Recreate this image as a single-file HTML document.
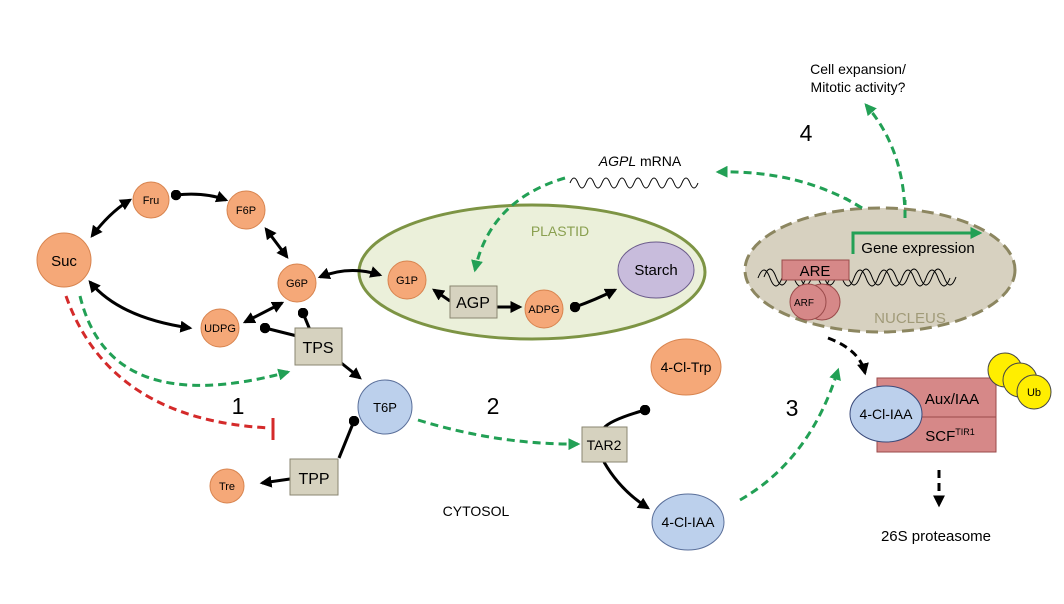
<!DOCTYPE html>
<html><head><meta charset="utf-8"><style>body{margin:0;background:#fff}svg{display:block}text{font-family:"Liberation Sans",sans-serif}</style></head><body>
<svg width="1064" height="604" viewBox="0 0 1064 604">
<defs>
<marker id="a" viewBox="0 0 10 10" refX="8" refY="5" markerWidth="4" markerHeight="4" orient="auto-start-reverse"><path d="M0,0L10,5L0,10z" fill="#000"/></marker>
<marker id="g" viewBox="0 0 10 10" refX="8" refY="5" markerWidth="4" markerHeight="4" orient="auto"><path d="M0,0L10,5L0,10z" fill="#22a055"/></marker>
<marker id="d" viewBox="0 0 10 10" refX="5" refY="5" markerWidth="3.5" markerHeight="3.5"><circle cx="5" cy="5" r="5" fill="#000"/></marker>
</defs>
<g stroke="#000" stroke-width="3" fill="none">
<path d="M92,236 Q110,212 130,200" marker-start="url(#a)" marker-end="url(#a)"/>
<path d="M176,195 Q205,192 226,200" marker-start="url(#d)" marker-end="url(#a)"/>
<path d="M266,229 L287,257" marker-start="url(#a)" marker-end="url(#a)"/>
<path d="M90,282 Q120,318 190,328" marker-start="url(#a)" marker-end="url(#a)"/>
<path d="M245,322 L282,303" marker-start="url(#a)" marker-end="url(#a)"/>
<path d="M265,328 L297,336" marker-start="url(#d)"/>
<path d="M303,313 L310,330" marker-start="url(#d)"/>
<path d="M340,362 L360,378" marker-end="url(#a)"/>
<path d="M354,421 L339,458" marker-start="url(#d)"/>
<path d="M290,479 L262,483" marker-end="url(#a)"/>
<path d="M645,410 Q610,420 604,428" marker-start="url(#d)"/>
<path d="M604,462 Q620,490 648,508" marker-end="url(#a)"/>
</g>
<g stroke-width="3" fill="none" stroke-dasharray="8,5">
<path d="M80,296 Q110,420 288,372" stroke="#22a055" marker-end="url(#g)"/>
<path d="M66,296 Q110,420 270,428" stroke="#d42a2a"/>
<path d="M418,420 Q500,445 578,444" stroke="#22a055" marker-end="url(#g)"/>
<path d="M740,500 Q810,460 838,370" stroke="#22a055" marker-end="url(#g)"/>
<path d="M862,208 Q800,170 718,172" stroke="#22a055" marker-end="url(#g)"/>
<path d="M905,218 Q905,150 866,105" stroke="#22a055" marker-end="url(#g)"/>
<path d="M828,338 Q860,350 865,373" stroke="#000" marker-end="url(#a)"/>
<path d="M939,470 L939,505" stroke="#000" marker-end="url(#a)"/>
</g>
<path d="M273,418 L273,440" stroke="#d42a2a" stroke-width="3"/>
<ellipse cx="532" cy="272" rx="173" ry="67" fill="#ebf0da" stroke="#7d9444" stroke-width="3"/>
<ellipse cx="880" cy="270" rx="135" ry="62" fill="#d7d1c0" stroke="#8c8660" stroke-width="3" stroke-dasharray="12,6"/>
<g stroke="#000" stroke-width="3" fill="none"><path d="M565,178 Q490,200 475,270" stroke="#22a055" stroke-dasharray="8,5" marker-end="url(#g)"/>
<path d="M320,277 Q350,265 380,275" marker-start="url(#a)" marker-end="url(#a)"/>
<path d="M450,301 L434,290" marker-end="url(#a)"/><path d="M497,307 L520,307" marker-end="url(#a)"/>
<path d="M575,307 Q595,300 615,290" marker-start="url(#d)" marker-end="url(#a)"/>
<path d="M862,208 L845,198" stroke="#22a055" stroke-dasharray="8,5"/><path d="M905,218 L905,200" stroke="#22a055" stroke-dasharray="8,5"/>
<path d="M853,254 L853,233 L980,233" stroke="#22a055" marker-end="url(#g)"/></g>
<path d="M570,183 q4,-10 8,0 t8,0 t8,0 t8,0 t8,0 t8,0 t8,0 t8,0 t8,0 t8,0 t8,0 t8,0 t8,0 t8,0 t8,0 t8,0" fill="none" stroke="#000" stroke-width="1"/>
<path d="M758,278 q6,-16 12,0 t12,0 t12,0 t12,0 t12,0 t12,0 t12,0 t12,0 t12,0 t12,0 t12,0 t12,0 t12,0 t12,0 t12,0 t12,0" fill="none" stroke="#000" stroke-width="1"/>
<path d="M764,278 q6,-16 12,0 t12,0 t12,0 t12,0 t12,0 t12,0 t12,0 t12,0 t12,0 t12,0 t12,0 t12,0 t12,0 t12,0 t12,0 t12,0" fill="none" stroke="#000" stroke-width="1" transform="translate(0,-1)"/>
<g fill="#f5a878" stroke="#d8844f" stroke-width="1">
<circle cx="64" cy="260" r="27"/><circle cx="151" cy="200" r="18"/><circle cx="246" cy="210" r="19"/><circle cx="297" cy="283" r="19"/><circle cx="220" cy="328" r="19"/><circle cx="227" cy="486" r="17"/><circle cx="407" cy="280" r="19"/><circle cx="544" cy="309" r="19"/><ellipse cx="686" cy="367" rx="35" ry="28"/></g>
<g fill="#bcd0ec" stroke="#5a6f9a" stroke-width="1"><circle cx="385" cy="407" r="27"/><ellipse cx="688" cy="522" rx="36" ry="28"/></g>
<g fill="#d6d2bf" stroke="#8a8670" stroke-width="1"><rect x="295" y="328" width="47" height="37"/><rect x="290" y="459" width="48" height="36"/><rect x="450" y="286" width="47" height="32"/><rect x="582" y="427" width="45" height="35"/></g>
<ellipse cx="656" cy="270" rx="38" ry="28" fill="#c8bcdc" stroke="#6a5a8a"/>
<g fill="#d68888" stroke="#9a4a4a" stroke-width="1"><rect x="782" y="260" width="67" height="20"/><circle cx="822" cy="302" r="18"/><circle cx="808" cy="302" r="18"/><rect x="877" y="378" width="119" height="39"/><rect x="877" y="417" width="119" height="35"/></g>
<ellipse cx="886" cy="414" rx="36" ry="28" fill="#bcd0ec" stroke="#3a4a7a"/>
<g fill="#ffee00" stroke="#444"><circle cx="1005" cy="370" r="17"/><circle cx="1020" cy="380" r="17"/><circle cx="1034" cy="392" r="17"/></g>
<g font-size="12" text-anchor="middle" fill="#000">
<text x="64" y="266" font-size="15">Suc</text><text x="151" y="204" font-size="11">Fru</text><text x="246" y="214" font-size="11">F6P</text><text x="297" y="287" font-size="11">G6P</text><text x="220" y="332" font-size="11">UDPG</text><text x="227" y="490" font-size="11">Tre</text>
<text x="318" y="353" font-size="16">TPS</text><text x="314" y="484" font-size="16">TPP</text><text x="385" y="412" font-size="13">T6P</text>
<text x="407" y="284" font-size="11">G1P</text><text x="473" y="308" font-size="16">AGP</text><text x="544" y="313" font-size="11">ADPG</text><text x="656" y="275" font-size="15">Starch</text>
<text x="560" y="236" font-size="14" fill="#8aa050">PLASTID</text>
<text x="640" y="166" font-size="14"><tspan font-style="italic">AGPL</tspan> mRNA</text>
<text x="686" y="372" font-size="14">4-Cl-Trp</text><text x="604" y="450" font-size="14">TAR2</text><text x="688" y="527" font-size="14">4-Cl-IAA</text>
<text x="238" y="414" font-size="23">1</text><text x="493" y="414" font-size="23">2</text><text x="792" y="416" font-size="23">3</text><text x="806" y="141" font-size="23">4</text>
<text x="476" y="516" font-size="14">CYTOSOL</text>
<text x="858" y="74" font-size="14">Cell expansion/</text><text x="858" y="92" font-size="14">Mitotic activity?</text>
<text x="918" y="253" font-size="15">Gene expression</text><text x="815" y="276" font-size="15">ARE</text><text x="804" y="306" font-size="10">ARF</text>
<text x="910" y="323" font-size="15" fill="#a09a78">NUCLEUS</text>
<text x="886" y="419" font-size="14">4-Cl-IAA</text><text x="952" y="404" font-size="15">Aux/IAA</text><text x="950" y="441" font-size="15">SCF<tspan font-size="9" dy="-6">TIR1</tspan></text>
<text x="1034" y="396" font-size="11">Ub</text><text x="936" y="541" font-size="15">26S proteasome</text>
</g>
</svg>
</body></html>
